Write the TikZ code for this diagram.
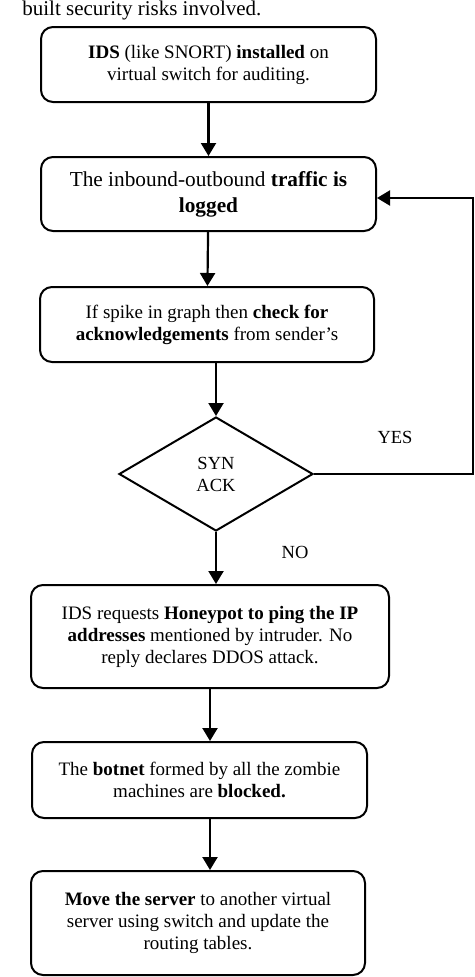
\documentclass[tikz,border=0pt]{standalone}
\usepackage{fontspec}
\setmainfont{Liberation Serif}
\usetikzlibrary{shapes.geometric,arrows.meta}

\begin{document}
\begin{tikzpicture}[x=1pt, y=1pt,
    stepbox/.style={draw, line width=2pt, rounded corners=12pt, align=center,
        inner sep=0pt, font=\fontsize{19}{22}\selectfont},
    flow/.style={-{Triangle[length=13pt,width=15pt]}, line width=2.2pt},
    answer/.style={font=\fontsize{18.5}{22}\selectfont}]
        \useasboundingbox (0,0) rectangle (474,-977);

        % Line above the chart
        \node[anchor=base east, font=\fontsize{21}{26}\selectfont] (head) at (265,-15.5) {built security risks involved.};

        % Steps
        \node[stepbox, minimum width=335pt, minimum height=75pt] (b1) at (208.5,-64.5)
            {\textbf{IDS} (like SNORT) \textbf{installed} on\\ virtual switch for auditing.};
        \node[stepbox, minimum width=335pt, minimum height=74pt, font=\fontsize{21.3}{26}\selectfont] (b2) at (208.5,-194)
            {The inbound-outbound \textbf{traffic is}\\ \textbf{logged}};
        \node[stepbox, minimum width=334pt, minimum height=75pt] (b3) at (207,-324.5)
            {If spike in graph then \textbf{check for}\\ \textbf{acknowledgements} from sender's};

        % Decision
        \node[draw, diamond, line width=2pt, aspect=1.7, inner sep=0pt, minimum width=194pt,
            minimum height=114pt, align=center, font=\fontsize{18.5}{22}\selectfont] (dia) at (216,-474) {SYN\\ ACK};

        \node[stepbox, minimum width=358pt, minimum height=103pt] (b4) at (210,-636.5)
            {IDS requests \textbf{Honeypot to ping the IP}\\ \textbf{addresses} mentioned by intruder. No\\ reply declares DDOS attack.};
        \node[stepbox, minimum width=335pt, minimum height=76pt] (b5) at (199.5,-780)
            {The \textbf{botnet} formed by all the zombie\\ machines are \textbf{blocked.}};
        \node[stepbox, minimum width=334pt, minimum height=104pt] (b6) at (198,-923)
            {\textbf{Move the server} to another virtual\\ server using switch and update the\\ routing tables.};

        % Answers
        \node[answer] (yes) at (395,-437) {YES};
        \node[answer] (no) at (295,-552) {NO};

        % Connections
        \draw[flow] (b1) -- (b2);
        \draw[flow] (b2) -- (b3);
        \draw[flow] (b3.south -| dia) -- (dia);
        \draw[flow] (dia) -- (dia |- b4.north);
        \draw[flow] (b4) -- (b4 |- b5.north);
        \draw[flow] (b5.south -| b4) -- (b4 |- b6.north);

        % Loop back
        \coordinate (turn) at (472.5,-474);
        \draw[flow, line width=2pt] (dia.east) -- (turn) |- ([yshift=-4pt]b2.east);
    \end{tikzpicture}
\end{document}
